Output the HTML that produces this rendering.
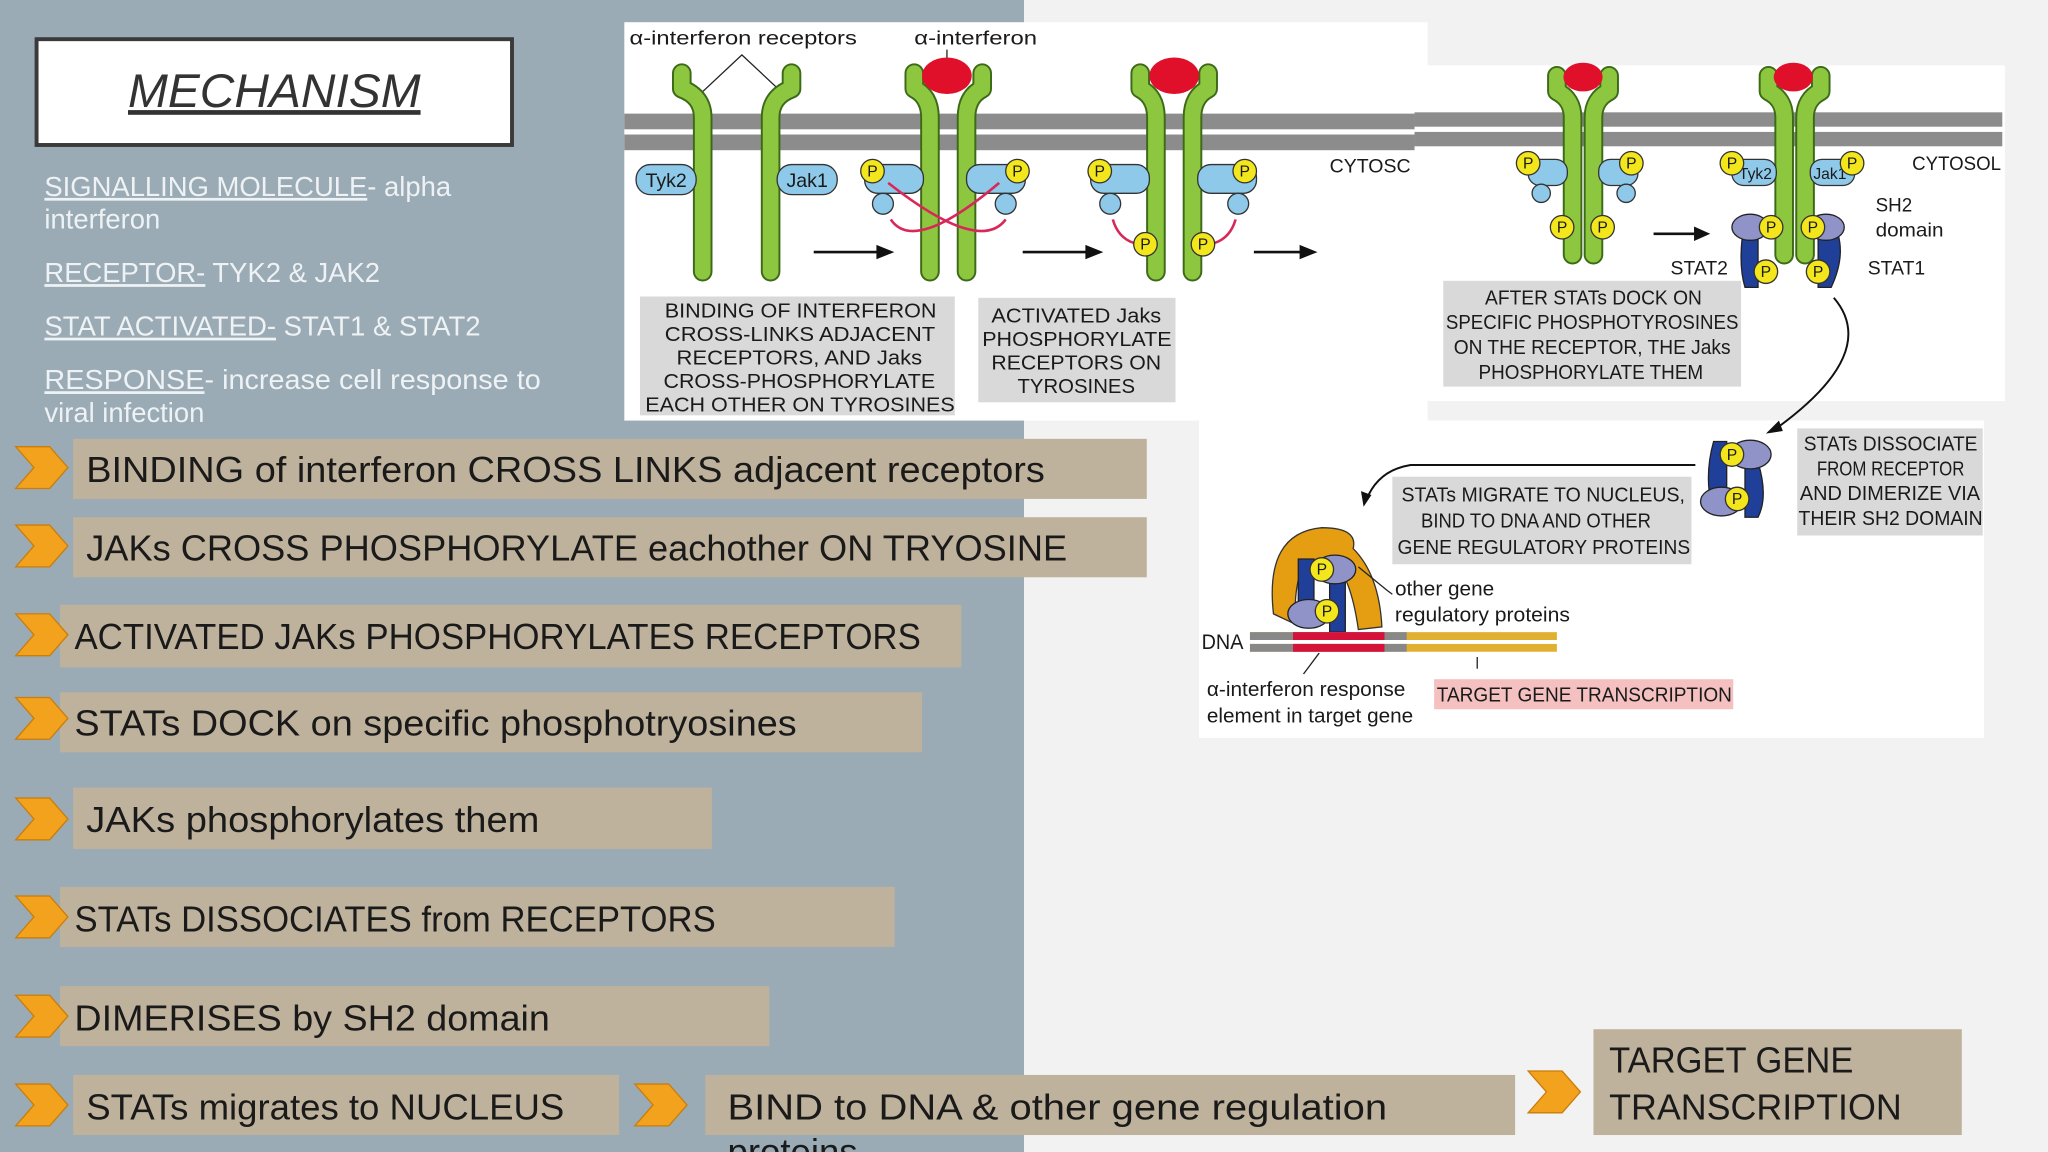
<!DOCTYPE html>
<html><head><meta charset="utf-8"><style>
html,body{margin:0;padding:0;background:#f2f2f2;}
svg{display:block;}
.b{font-family:"Liberation Sans",sans-serif;fill:#1a1a1a;}
.n{font-family:"Liberation Sans Narrow","Liberation Sans",sans-serif;fill:#1a1a1a;}
.w{font-family:"Liberation Sans",sans-serif;fill:#eef2f4;font-size:21px;}
</style></head><body>
<svg width="2048" height="1152" viewBox="0 0 1568 882" xmlns="http://www.w3.org/2000/svg">
<defs>
<g id="chev"><polygon points="0,-16 26,-16 40,0 26,16 0,16 14,0" fill="#f3a21d" stroke="#c97d0a" stroke-width="1"/></g>
<g id="P"><circle r="9" fill="#f3e61c" stroke="#333" stroke-width="1"/><text class="n" font-size="12" text-anchor="middle" y="4">P</text></g>
</defs>
<rect x="0" y="0" width="1568" height="882" fill="#f2f2f2"/>
<rect x="0" y="0" width="784" height="882" fill="#9aabb5"/>

<rect x="28" y="30" width="364" height="81" fill="#fff" stroke="#3a3a3a" stroke-width="3"/>
<text x="98" y="82" textLength="224" lengthAdjust="spacingAndGlyphs" font-family="Liberation Sans,sans-serif" font-style="italic" font-size="36" fill="#333" text-decoration="underline">MECHANISM</text>

<text class="w" x="34" y="150"><tspan text-decoration="underline">SIGNALLING MOLECULE</tspan>- alpha</text>
<text class="w" x="34" y="175">interferon</text>
<text class="w" x="34" y="216"><tspan text-decoration="underline">RECEPTOR-</tspan> TYK2 &amp; JAK2</text>
<text class="w" x="34" y="257" textLength="334" lengthAdjust="spacingAndGlyphs"><tspan text-decoration="underline">STAT ACTIVATED-</tspan> STAT1 &amp; STAT2</text>
<text class="w" x="34" y="298" textLength="380" lengthAdjust="spacingAndGlyphs"><tspan text-decoration="underline">RESPONSE</tspan>- increase cell response to</text>
<text class="w" x="34" y="323">viral infection</text>

<rect x="478" y="17" width="615" height="305" fill="#fff"/>
<rect x="1083" y="50" width="452" height="257" fill="#fff"/>
<rect x="918" y="322" width="601" height="243" fill="#fff"/>
<rect x="478" y="87" width="605" height="12" fill="#8c8c8c"/>
<rect x="478" y="103" width="605" height="12" fill="#8c8c8c"/>
<rect x="1083" y="86" width="450" height="11" fill="#8c8c8c"/>
<rect x="1083" y="101" width="450" height="11" fill="#8c8c8c"/>

<text class="n" x="482" y="34" font-size="15" textLength="174" lengthAdjust="spacingAndGlyphs">α-interferon receptors</text>
<text class="n" x="700" y="34" font-size="15" textLength="94" lengthAdjust="spacingAndGlyphs">α-interferon</text>
<polyline points="536,72 568,42 600,72" fill="none" stroke="#222" stroke-width="1"/>
<line x1="725" y1="38" x2="725" y2="52" stroke="#222"/>

<g fill="none" stroke-linecap="round" stroke-linejoin="round">
<g stroke="#3d6a18" stroke-width="15">
<path d="M522,56 L522,68 Q538,74 538,90 L538,208"/>
<path d="M606,56 L606,68 Q590,74 590,90 L590,208"/>
<path d="M700,56 L700,68 Q712,74 712,90 L712,208"/>
<path d="M752,56 L752,68 Q740,74 740,90 L740,208"/>
<path d="M873,56 L873,68 Q885,74 885,90 L885,208"/>
<path d="M925,56 L925,68 Q913,74 913,90 L913,208"/>
<path d="M1192,58 L1192,70 Q1204,76 1204,90 L1204,195"/>
<path d="M1232,58 L1232,70 Q1220,76 1220,90 L1220,195"/>
<path d="M1354,58 L1354,70 Q1366,76 1366,90 L1366,195"/>
<path d="M1394,58 L1394,70 Q1382,76 1382,90 L1382,195"/>
</g>
<g stroke="#8dc63f" stroke-width="12">
<path d="M522,56 L522,68 Q538,74 538,90 L538,208"/>
<path d="M606,56 L606,68 Q590,74 590,90 L590,208"/>
<path d="M700,56 L700,68 Q712,74 712,90 L712,208"/>
<path d="M752,56 L752,68 Q740,74 740,90 L740,208"/>
<path d="M873,56 L873,68 Q885,74 885,90 L885,208"/>
<path d="M925,56 L925,68 Q913,74 913,90 L913,208"/>
<path d="M1192,58 L1192,70 Q1204,76 1204,90 L1204,195"/>
<path d="M1232,58 L1232,70 Q1220,76 1220,90 L1220,195"/>
<path d="M1354,58 L1354,70 Q1366,76 1366,90 L1366,195"/>
<path d="M1394,58 L1394,70 Q1382,76 1382,90 L1382,195"/>
</g>
</g>
<ellipse cx="725" cy="58" rx="19" ry="14" fill="#e0102a"/>
<ellipse cx="899" cy="58" rx="19" ry="14" fill="#e0102a"/>
<ellipse cx="1212" cy="59" rx="15" ry="11" fill="#e0102a"/>
<ellipse cx="1373" cy="59" rx="15" ry="11" fill="#e0102a"/>

<g fill="#8ec9ea" stroke="#333" stroke-width="1">
<rect x="487" y="126" width="46" height="23" rx="11"/>
<rect x="595" y="126" width="46" height="23" rx="11"/>
<rect x="662" y="126" width="45" height="22" rx="10"/><circle cx="676" cy="156" r="8"/>
<rect x="740" y="126" width="45" height="22" rx="10"/><circle cx="770" cy="156" r="8"/>
<rect x="835" y="126" width="45" height="22" rx="10"/><circle cx="850" cy="156" r="8"/>
<rect x="917" y="126" width="45" height="22" rx="10"/><circle cx="948" cy="156" r="8"/>
<rect x="1170" y="122" width="30" height="20" rx="9"/><circle cx="1180" cy="148" r="7"/>
<rect x="1224" y="122" width="30" height="20" rx="9"/><circle cx="1245" cy="148" r="7"/>
<rect x="1326" y="122" width="34" height="20" rx="9"/>
<rect x="1386" y="122" width="34" height="20" rx="9"/>
</g>
<text class="n" x="510" y="143" font-size="15" text-anchor="middle">Tyk2</text>
<text class="n" x="618" y="143" font-size="15" text-anchor="middle">Jak1</text>
<text class="n" x="1344" y="137" font-size="12" text-anchor="middle">Tyk2</text>
<text class="n" x="1401" y="137" font-size="12" text-anchor="middle">Jak1</text>
<path d="M682,168 Q700,195 765,140" fill="none" stroke="#d8285a" stroke-width="2"/>
<path d="M770,168 Q750,195 680,140" fill="none" stroke="#d8285a" stroke-width="2"/>
<path d="M852,168 Q856,182 868,186" fill="none" stroke="#d8285a" stroke-width="2"/>
<path d="M946,168 Q942,182 930,186" fill="none" stroke="#d8285a" stroke-width="2"/>
<use href="#P" x="668" y="131"/><use href="#P" x="779" y="131"/>
<use href="#P" x="842" y="131"/><use href="#P" x="953" y="131"/>
<use href="#P" x="877" y="187"/><use href="#P" x="921" y="187"/>
<use href="#P" x="1170" y="125"/><use href="#P" x="1249" y="125"/>
<use href="#P" x="1196" y="174"/><use href="#P" x="1227" y="174"/>
<use href="#P" x="1326" y="125"/><use href="#P" x="1418" y="125"/>
<g stroke="#111" stroke-width="2" fill="#111">
<line x1="623" y1="193" x2="675" y2="193"/><polygon points="682,193 672,189 672,197"/>
<line x1="783" y1="193" x2="835" y2="193"/><polygon points="842,193 832,189 832,197"/>
<line x1="960" y1="193" x2="998" y2="193"/><polygon points="1006,193 996,189 996,197"/>
<line x1="1266" y1="179" x2="1300" y2="179"/><polygon points="1307,179 1298,175 1298,183"/>
</g>
<text class="n" x="1018" y="132" font-size="15" textLength="62" lengthAdjust="spacingAndGlyphs">CYTOSC</text>
<text class="n" x="1464" y="130" font-size="15" textLength="68" lengthAdjust="spacingAndGlyphs">CYTOSOL</text>

<g stroke="#222" stroke-width="1">
<path d="M1336,168 h10 v52 h-10 Q1330,200 1336,168Z" fill="#1f3f99"/>
<path d="M1392,168 h10 Q1416,190 1402,220 h-10Z" fill="#1f3f99"/>
<ellipse cx="1340" cy="174" rx="14" ry="10" fill="#8f93c8"/>
<ellipse cx="1398" cy="174" rx="14" ry="10" fill="#8f93c8"/>
</g>
<use href="#P" x="1356" y="174"/><use href="#P" x="1388" y="174"/>
<use href="#P" x="1352" y="208"/><use href="#P" x="1392" y="208"/>
<text class="n" x="1436" y="162" font-size="15" textLength="28" lengthAdjust="spacingAndGlyphs">SH2</text>
<text class="n" x="1436" y="181" font-size="15" textLength="52" lengthAdjust="spacingAndGlyphs">domain</text>
<text class="n" x="1279" y="210" font-size="15" textLength="44" lengthAdjust="spacingAndGlyphs">STAT2</text>
<text class="n" x="1430" y="210" font-size="15" textLength="44" lengthAdjust="spacingAndGlyphs">STAT1</text>
<path d="M1404,228 Q1440,270 1360,328" fill="none" stroke="#111" stroke-width="1.5"/>
<polygon points="1352,332 1362,322 1365,330" fill="#111"/>

<rect x="490" y="227" width="241" height="91" fill="#d9d9d9"/>
<g font-size="15.5">
<text x="509" y="243" class="n" textLength="208" lengthAdjust="spacingAndGlyphs">BINDING OF INTERFERON</text>
<text x="509" y="261" class="n" textLength="207" lengthAdjust="spacingAndGlyphs">CROSS-LINKS ADJACENT</text>
<text x="518" y="279" class="n" textLength="188" lengthAdjust="spacingAndGlyphs">RECEPTORS, AND Jaks</text>
<text x="508" y="297" class="n" textLength="208" lengthAdjust="spacingAndGlyphs">CROSS-PHOSPHORYLATE</text>
<text x="494" y="315" class="n" textLength="237" lengthAdjust="spacingAndGlyphs">EACH OTHER ON TYROSINES</text>
</g>
<rect x="749" y="228" width="151" height="80" fill="#d9d9d9"/>
<text x="759" y="247" class="n" font-size="15.5" textLength="130" lengthAdjust="spacingAndGlyphs">ACTIVATED Jaks</text>
<text x="752" y="265" class="n" font-size="15.5" textLength="145" lengthAdjust="spacingAndGlyphs">PHOSPHORYLATE</text>
<text x="759" y="283" class="n" font-size="15.5" textLength="130" lengthAdjust="spacingAndGlyphs">RECEPTORS ON</text>
<text x="779" y="301" class="n" font-size="15.5" textLength="90" lengthAdjust="spacingAndGlyphs">TYROSINES</text>
<rect x="1105" y="215" width="228" height="81" fill="#d9d9d9"/>
<text x="1137" y="233" class="n" font-size="15.5" textLength="166" lengthAdjust="spacingAndGlyphs">AFTER STATs DOCK ON</text>
<text x="1107" y="252" class="n" font-size="15.5" textLength="224" lengthAdjust="spacingAndGlyphs">SPECIFIC PHOSPHOTYROSINES</text>
<text x="1113" y="271" class="n" font-size="15.5" textLength="212" lengthAdjust="spacingAndGlyphs">ON THE RECEPTOR, THE Jaks</text>
<text x="1132" y="290" class="n" font-size="15.5" textLength="172" lengthAdjust="spacingAndGlyphs">PHOSPHORYLATE THEM</text>
<rect x="1376" y="328" width="142" height="82" fill="#d9d9d9"/>
<text x="1381" y="345" class="n" font-size="15.5" textLength="133" lengthAdjust="spacingAndGlyphs">STATs DISSOCIATE</text>
<text x="1391" y="364" class="n" font-size="15.5" textLength="113" lengthAdjust="spacingAndGlyphs">FROM RECEPTOR</text>
<text x="1378" y="383" class="n" font-size="15.5" textLength="138" lengthAdjust="spacingAndGlyphs">AND DIMERIZE VIA</text>
<text x="1377" y="402" class="n" font-size="15.5" textLength="141" lengthAdjust="spacingAndGlyphs">THEIR SH2 DOMAIN</text>
<rect x="1066" y="365" width="229" height="67" fill="#d9d9d9"/>
<text x="1073" y="384" class="n" font-size="15.5" textLength="217" lengthAdjust="spacingAndGlyphs">STATs MIGRATE TO NUCLEUS,</text>
<text x="1088" y="404" class="n" font-size="15.5" textLength="176" lengthAdjust="spacingAndGlyphs">BIND TO DNA AND OTHER</text>
<text x="1070" y="424" class="n" font-size="15.5" textLength="224" lengthAdjust="spacingAndGlyphs">GENE REGULATORY PROTEINS</text>

<g stroke="#222" stroke-width="1">
<path d="M1312,338 h10 v56 h-10 Q1304,366 1312,338Z" fill="#1f3f99"/>
<path d="M1336,354 h10 Q1354,380 1346,396 h-10Z" fill="#1f3f99"/>
<ellipse cx="1340" cy="348" rx="16" ry="11" fill="#8f93c8"/>
<ellipse cx="1318" cy="384" rx="16" ry="11" fill="#8f93c8"/>
</g>
<use href="#P" x="1326" y="348"/><use href="#P" x="1330" y="382"/>
<path d="M1298,356 L1080,356 Q1055,360 1046,383" fill="none" stroke="#111" stroke-width="1.5"/>
<polygon points="1044,388 1042,376 1050,379" fill="#111"/>

<path d="M975,470 Q968,408 1012,404 Q1040,404 1036,420 Q1056,440 1058,480 L1040,482 Q1034,440 1020,430 L998,432 Q990,450 992,478Z" fill="#e59d12" stroke="#333" stroke-width="1"/>
<g stroke="#222" stroke-width="1">
<path d="M994,428 h12 v50 h-12Z" fill="#1f3f99"/>
<path d="M1018,444 h12 v40 h-12Z" fill="#1f3f99"/>
<ellipse cx="1022" cy="436" rx="16" ry="11" fill="#8f93c8"/>
<ellipse cx="1002" cy="470" rx="16" ry="11" fill="#8f93c8"/>
</g>
<use href="#P" x="1012" y="436"/><use href="#P" x="1016" y="468"/>
<polyline points="1040,434 1062,452 1066,455" fill="none" stroke="#222" stroke-width="1"/>
<text class="n" x="1068" y="456" font-size="15.5" textLength="76" lengthAdjust="spacingAndGlyphs">other gene</text>
<text class="n" x="1068" y="476" font-size="15.5" textLength="134" lengthAdjust="spacingAndGlyphs">regulatory proteins</text>
<text class="n" x="920" y="497" font-size="16" textLength="32" lengthAdjust="spacingAndGlyphs">DNA</text>
<rect x="957" y="484" width="235" height="6" fill="#e0b030"/>
<rect x="957" y="493" width="235" height="6" fill="#e0b030"/>
<rect x="957" y="484" width="120" height="6" fill="#888"/>
<rect x="957" y="493" width="120" height="6" fill="#888"/>
<rect x="990" y="484" width="70" height="6" fill="#d4123a"/>
<rect x="990" y="493" width="70" height="6" fill="#d4123a"/>
<line x1="1010" y1="500" x2="998" y2="516" stroke="#222"/>
<line x1="1131" y1="503" x2="1131" y2="512" stroke="#222"/>
<text class="n" x="924" y="533" font-size="15.5" textLength="152" lengthAdjust="spacingAndGlyphs">α-interferon response</text>
<text class="n" x="924" y="553" font-size="15.5" textLength="158" lengthAdjust="spacingAndGlyphs">element in target gene</text>
<rect x="1098" y="520" width="229" height="23" fill="#f4c0c0"/>
<text class="n" x="1100" y="537" font-size="15.5" textLength="226" lengthAdjust="spacingAndGlyphs">TARGET GENE TRANSCRIPTION</text>

<g fill="#bfb29c">
<rect x="56" y="336" width="822" height="46"/>
<rect x="56" y="396" width="822" height="46"/>
<rect x="46" y="463" width="690" height="48"/>
<rect x="46" y="530" width="660" height="46"/>
<rect x="56" y="603" width="489" height="47"/>
<rect x="46" y="679" width="639" height="46"/>
<rect x="46" y="755" width="543" height="46"/>
<rect x="56" y="823" width="418" height="46"/>
<rect x="540" y="823" width="620" height="46"/>
<rect x="1220" y="788" width="282" height="81"/>
</g>
<use href="#chev" x="12" y="358"/>
<use href="#chev" x="12" y="418"/>
<use href="#chev" x="12" y="486"/>
<use href="#chev" x="12" y="550"/>
<use href="#chev" x="12" y="627"/>
<use href="#chev" x="12" y="702"/>
<use href="#chev" x="12" y="778"/>
<use href="#chev" x="12" y="846"/>
<use href="#chev" x="486" y="846"/>
<use href="#chev" x="1170" y="836"/>
<g font-size="28">
<text x="66" y="369" class="b" textLength="734" lengthAdjust="spacingAndGlyphs">BINDING of interferon CROSS LINKS adjacent receptors</text>
<text x="66" y="429" class="b" textLength="751" lengthAdjust="spacingAndGlyphs">JAKs CROSS PHOSPHORYLATE eachother ON TRYOSINE</text>
<text x="57" y="497" class="b" textLength="648" lengthAdjust="spacingAndGlyphs">ACTIVATED JAKs PHOSPHORYLATES RECEPTORS</text>
<text x="57" y="563" class="b" textLength="553" lengthAdjust="spacingAndGlyphs">STATs DOCK on specific phosphotryosines</text>
<text x="66" y="637" class="b" textLength="347" lengthAdjust="spacingAndGlyphs">JAKs phosphorylates them</text>
<text x="57" y="713" class="b" textLength="491" lengthAdjust="spacingAndGlyphs">STATs DISSOCIATES from RECEPTORS</text>
<text x="57" y="789" class="b" textLength="364" lengthAdjust="spacingAndGlyphs">DIMERISES by  SH2 domain</text>
<text x="66" y="857" class="b" textLength="366" lengthAdjust="spacingAndGlyphs">STATs migrates to NUCLEUS</text>
<text x="557" y="857" class="b" textLength="505" lengthAdjust="spacingAndGlyphs">BIND to DNA &amp; other gene regulation</text>
<text x="557" y="891" class="b">proteins</text>
<text x="1232" y="821" class="b" textLength="187" lengthAdjust="spacingAndGlyphs">TARGET GENE</text>
<text x="1232" y="857" class="b" textLength="224" lengthAdjust="spacingAndGlyphs">TRANSCRIPTION</text>
</g>
</svg>
</body></html>
